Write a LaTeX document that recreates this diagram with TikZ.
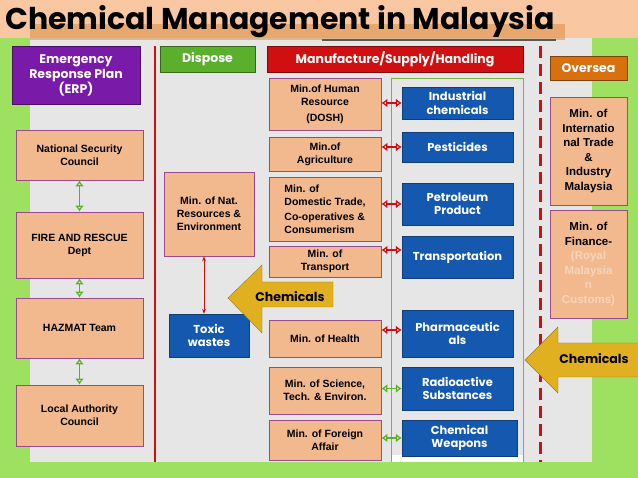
\documentclass[tikz,border=0pt]{standalone}
\usepackage{fontspec}
\setmainfont{Liberation Sans}
\newfontfamily\pop{Poppins}
\usetikzlibrary{arrows.meta}
\definecolor{peach}{HTML}{F2B98E}
\definecolor{pborder}{HTML}{9A4A8A}
\definecolor{bblue}{HTML}{1558B0}
\definecolor{lgreen}{HTML}{9EE060}
\definecolor{panel}{HTML}{E6E6E6}
\definecolor{topband}{HTML}{F9C8A2}
\definecolor{erp}{HTML}{7A1AA8}
\definecolor{dgreen}{HTML}{5AB02A}
\definecolor{mred}{HTML}{D01010}
\definecolor{orng}{HTML}{D8700E}
\definecolor{gold}{HTML}{E0B020}
\definecolor{gline}{HTML}{7CB342}
\tikzset{
 pbox/.style={draw=pborder,fill=peach,line width=0.8pt,inner sep=1pt,align=center,font=\fontsize{10.5}{13}\selectfont\bfseries},
 bbox/.style={draw=bblue!70!black,fill=bblue,text=white,inner sep=1pt,align=center,font=\pop\fontsize{11.5}{13.5}\selectfont\bfseries},
 hbox/.style={inner sep=1pt,align=center,text=white,font=\pop\fontsize{12.5}{15}\selectfont\bfseries},
 rarr/.style={{Latex[length=6pt,width=9pt,open]}-{Latex[length=6pt,width=9pt,open]},mred,line width=1.8pt},
 garr/.style={{Latex[length=6pt,width=9pt,open]}-{Latex[length=6pt,width=9pt,open]},dgreen,line width=1.8pt},
}
\newcommand{\bx}[7]{\node[#1,minimum width=#4-#3,minimum height=#6-#5] (#2) at ({(#3+#4)/2},{(#5+#6)/2}) {#7};}
\begin{document}
\begin{tikzpicture}[x=1pt,y=-1pt]
\useasboundingbox (0,0) rectangle (638,478);
\fill[lgreen] (0,0) rectangle (638,478);
\fill[topband] (0,0) rectangle (638,38);
\fill[panel] (30,38) rectangle (592,462);
\fill[brown!70!orange,opacity=0.45] (30,24) rectangle (565,40);
\draw[gray!70!black,line width=1.5pt] (322,40) -- (556,40);
\node[anchor=base west,inner sep=0,font=\pop\fontsize{30}{32}\selectfont\bfseries] (title) at (5,30) {Chemical Management in Malaysia};
% separators
\draw[mred,line width=1.5pt] (155,46) -- (155,462);
\draw[mred,line width=3pt,dash pattern=on 12pt off 6pt] (540,46) -- (540,462);
% green frame
\fill[white] (392,455) rectangle (523,462);
\draw[gline,line width=0.8pt] (391,462) -- (391,78) -- (523,78) -- (523,462);
% headers
\bx{hbox,fill=erp,draw=erp!60!black}{erp}{12}{140}{46}{104}{Emergency\\Response Plan\\(ERP)}
\bx{hbox,fill=dgreen,draw=dgreen!60!black}{disp}{160}{255}{46}{72}{Dispose}
\bx{hbox,fill=mred,draw=mred!60!black}{manu}{267}{523}{46}{72}{Manufacture/Supply/Handling}
\bx{hbox,fill=orng,draw=orng!60!black}{over}{550}{627}{56}{80}{Oversea}
% oversea
\bx{pbox,font=\fontsize{11.5}{14.5}\selectfont\bfseries}{mitr}{550}{627}{97}{205}{Min. of\\Internatio\\nal Trade\\\&\\Industry\\Malaysia}
\bx{pbox,font=\fontsize{11.5}{14.5}\selectfont\bfseries}{mof}{550}{627}{210}{318}{Min. of\\Finance-\\\textcolor{peach!60!white}{(Royal}\\\textcolor{peach!60!white}{Malaysia}\\\textcolor{peach!60!white}{n}\\\textcolor{peach!60!white}{Customs)}}
% left column
\bx{pbox}{nsc}{16}{143}{130}{180}{National Security\\Council}
\bx{pbox}{fire}{16}{143}{212}{278}{FIRE AND RESCUE\\Dept}
\bx{pbox}{haz}{16}{143}{298}{358}{HAZMAT Team}
\bx{pbox}{lac}{16}{143}{385}{446}{Local Authority\\Council}
\draw[garr] (nsc) -- (fire);
\draw[garr] (fire) -- (haz);
\draw[garr] (haz) -- (lac);
% dispose
\bx{pbox}{nre}{164}{254}{172}{256}{Min. of Nat.\\Resources \&\\Environment}
\bx{bbox}{tox}{169}{249}{314}{357}{Toxic\\wastes}
\draw[{Stealth[length=5pt]}-{Stealth[length=5pt]},mred,line width=0.6pt] (nre.south) ++(-5,0) coordinate (a1) -- (a1 |- tox.north);
% chemicals arrows
\filldraw[fill=gold,draw=gold!70!black] (228,298) -- (262,265) -- (262,282) -- (333,282) -- (333,307) -- (262,307) -- (262,333) -- cycle;
\node[font=\pop\fontsize{12.5}{14}\selectfont\bfseries] (chem1) at (290,297) {Chemicals};
\filldraw[fill=gold,draw=gold!70!black] (525,360) -- (558,327) -- (558,343) -- (640,343) -- (640,377) -- (558,377) -- (558,393) -- cycle;
\node[font=\pop\fontsize{12.5}{14}\selectfont\bfseries] (chem2) at (594,359) {Chemicals};
% ministries
\bx{pbox}{m1}{269}{381}{78}{130}{Min.of Human\\Resource\\[3pt](DOSH)}
\bx{pbox}{m2}{269}{381}{137}{171}{Min.of\\Agriculture}
\bx{pbox,align=left}{m3}{269}{381}{177}{241}{Min. of\\Domestic Trade,\\[2pt]Co-operatives \&\\Consumerism}
\bx{pbox}{m4}{269}{381}{246}{277}{Min. of\\Transport}
\bx{pbox}{m5}{269}{381}{320}{357}{Min. of Health}
\bx{pbox}{m6}{269}{381}{367}{414}{Min. of Science,\\Tech. \& Environ.}
\bx{pbox}{m7}{269}{381}{420}{460}{Min. of Foreign\\Affair}
% products
\bx{bbox}{p1}{402}{513}{87}{119}{Industrial\\chemicals}
\bx{bbox}{p2}{402}{513}{132}{162}{Pesticides}
\bx{bbox}{p3}{402}{513}{183}{225}{Petroleum\\Product}
\bx{bbox}{p4}{402}{513}{236}{278}{Transportation}
\bx{bbox}{p5}{402}{513}{310}{357}{Pharmaceutic\\als}
\bx{bbox}{p6}{402}{513}{367}{410}{Radioactive\\Substances}
\bx{bbox}{p7}{402}{517}{420}{456}{Chemical\\Weapons}
\draw[rarr] (m1.east |- p1) -- (p1.west);
\draw[rarr] (m2.east |- p2) -- (p2.west);
\draw[rarr] (m3.east |- p3) -- (p3.west);
\draw[rarr] (m4.east |- 0,250) -- (p4.west |- 0,250);
\draw[rarr] (m5.east |- 0,330) -- (p5.west |- 0,330);
\draw[garr] (m6.east |- p6) -- (p6.west);
\draw[garr] (m7.east |- p7) -- (p7.west);
\end{tikzpicture}
\end{document}
